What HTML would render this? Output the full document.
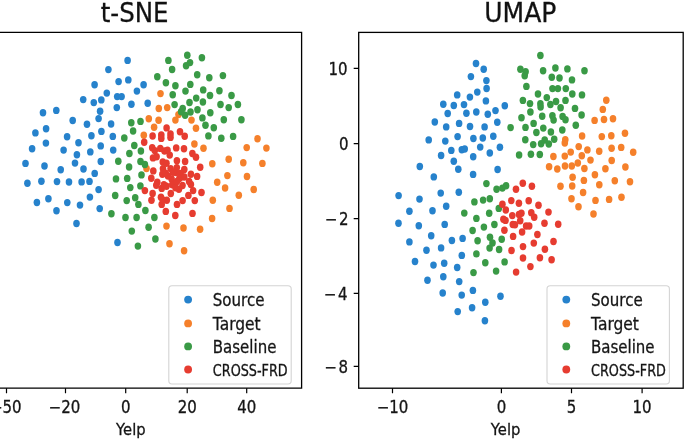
<!DOCTYPE html>
<html><head><meta charset="utf-8"><title>t-SNE / UMAP</title>
<style>
html,body{margin:0;padding:0;background:#fff}
svg{display:block}
text{font-family:"DejaVu Sans","Liberation Sans",sans-serif;fill:#151515;stroke:#151515;stroke-width:0.3px}
.tk{font-size:16.8px}
.lg{font-size:16px}
.ttl{font-size:26.7px;fill:#111}
.xl{font-size:16.6px}
</style></head><body>
<svg width="685" height="439" viewBox="0 0 685 439">
<rect width="685" height="439" fill="#fff"/>

<g>
<g fill="#2682cc">
<ellipse cx="108.4" cy="69.6" rx="3.3" ry="3.7"/>
<ellipse cx="94.6" cy="84.7" rx="3.3" ry="3.7"/>
<ellipse cx="106.8" cy="93.1" rx="3.3" ry="3.7"/>
<ellipse cx="83.2" cy="99.6" rx="3.3" ry="3.7"/>
<ellipse cx="101.3" cy="99.9" rx="3.3" ry="3.7"/>
<ellipse cx="93.8" cy="102.6" rx="3.3" ry="3.7"/>
<ellipse cx="127.6" cy="60.4" rx="3.3" ry="3.7"/>
<ellipse cx="128.3" cy="79.9" rx="3.3" ry="3.7"/>
<ellipse cx="118.6" cy="81.6" rx="3.3" ry="3.7"/>
<ellipse cx="143.6" cy="84.7" rx="3.3" ry="3.7"/>
<ellipse cx="136.9" cy="91.1" rx="3.3" ry="3.7"/>
<ellipse cx="117.2" cy="96.6" rx="3.3" ry="3.7"/>
<ellipse cx="121.6" cy="96.6" rx="3.3" ry="3.7"/>
<ellipse cx="131.4" cy="104.2" rx="3.3" ry="3.7"/>
<ellipse cx="147.7" cy="103.2" rx="3.3" ry="3.7"/>
<ellipse cx="43.0" cy="112.8" rx="3.3" ry="3.7"/>
<ellipse cx="56.3" cy="110.4" rx="3.3" ry="3.7"/>
<ellipse cx="100.1" cy="111.3" rx="3.3" ry="3.7"/>
<ellipse cx="116.8" cy="107.6" rx="3.3" ry="3.7"/>
<ellipse cx="72.7" cy="120.5" rx="3.3" ry="3.7"/>
<ellipse cx="98.6" cy="118.6" rx="3.3" ry="3.7"/>
<ellipse cx="87.0" cy="124.3" rx="3.3" ry="3.7"/>
<ellipse cx="111.1" cy="124.0" rx="3.3" ry="3.7"/>
<ellipse cx="46.1" cy="128.8" rx="3.3" ry="3.7"/>
<ellipse cx="35.4" cy="132.9" rx="3.3" ry="3.7"/>
<ellipse cx="101.4" cy="131.4" rx="3.3" ry="3.7"/>
<ellipse cx="91.4" cy="135.7" rx="3.3" ry="3.7"/>
<ellipse cx="67.1" cy="136.7" rx="3.3" ry="3.7"/>
<ellipse cx="112.8" cy="136.4" rx="3.3" ry="3.7"/>
<ellipse cx="45.9" cy="143.1" rx="3.3" ry="3.7"/>
<ellipse cx="78.5" cy="142.8" rx="3.3" ry="3.7"/>
<ellipse cx="100.7" cy="145.9" rx="3.3" ry="3.7"/>
<ellipse cx="32.1" cy="148.7" rx="3.3" ry="3.7"/>
<ellipse cx="63.6" cy="150.1" rx="3.3" ry="3.7"/>
<ellipse cx="113.2" cy="150.1" rx="3.3" ry="3.7"/>
<ellipse cx="90.3" cy="151.9" rx="3.3" ry="3.7"/>
<ellipse cx="76.9" cy="154.7" rx="3.3" ry="3.7"/>
<ellipse cx="100.8" cy="161.5" rx="3.3" ry="3.7"/>
<ellipse cx="25.5" cy="163.4" rx="3.3" ry="3.7"/>
<ellipse cx="75.0" cy="163.1" rx="3.3" ry="3.7"/>
<ellipse cx="44.5" cy="166.0" rx="3.3" ry="3.7"/>
<ellipse cx="83.5" cy="169.0" rx="3.3" ry="3.7"/>
<ellipse cx="60.7" cy="169.8" rx="3.3" ry="3.7"/>
<ellipse cx="94.7" cy="173.4" rx="3.3" ry="3.7"/>
<ellipse cx="27.4" cy="183.2" rx="3.3" ry="3.7"/>
<ellipse cx="41.4" cy="181.3" rx="3.3" ry="3.7"/>
<ellipse cx="57.0" cy="181.6" rx="3.3" ry="3.7"/>
<ellipse cx="69.0" cy="182.0" rx="3.3" ry="3.7"/>
<ellipse cx="81.6" cy="181.9" rx="3.3" ry="3.7"/>
<ellipse cx="89.5" cy="181.4" rx="3.3" ry="3.7"/>
<ellipse cx="98.6" cy="189.6" rx="3.3" ry="3.7"/>
<ellipse cx="89.9" cy="197.1" rx="3.3" ry="3.7"/>
<ellipse cx="48.4" cy="198.7" rx="3.3" ry="3.7"/>
<ellipse cx="36.9" cy="202.5" rx="3.3" ry="3.7"/>
<ellipse cx="67.3" cy="202.6" rx="3.3" ry="3.7"/>
<ellipse cx="80.0" cy="205.1" rx="3.3" ry="3.7"/>
<ellipse cx="99.7" cy="208.6" rx="3.3" ry="3.7"/>
<ellipse cx="56.5" cy="210.8" rx="3.3" ry="3.7"/>
<ellipse cx="76.5" cy="223.5" rx="3.3" ry="3.7"/>
<ellipse cx="117.5" cy="242.5" rx="3.3" ry="3.7"/>
</g>
<g fill="#f5802b">
<ellipse cx="160.5" cy="93.6" rx="3.3" ry="3.7"/>
<ellipse cx="158.8" cy="108.5" rx="3.3" ry="3.7"/>
<ellipse cx="167.2" cy="107.6" rx="3.3" ry="3.7"/>
<ellipse cx="148.8" cy="118.8" rx="3.3" ry="3.7"/>
<ellipse cx="158.6" cy="120.2" rx="3.3" ry="3.7"/>
<ellipse cx="154.1" cy="127.2" rx="3.3" ry="3.7"/>
<ellipse cx="143.8" cy="135.2" rx="3.3" ry="3.7"/>
<ellipse cx="178.5" cy="114.6" rx="3.3" ry="3.7"/>
<ellipse cx="175.4" cy="120.1" rx="3.3" ry="3.7"/>
<ellipse cx="191.5" cy="120.1" rx="3.3" ry="3.7"/>
<ellipse cx="196.0" cy="128.3" rx="3.3" ry="3.7"/>
<ellipse cx="146.5" cy="168.5" rx="3.3" ry="3.7"/>
<ellipse cx="194.4" cy="144.0" rx="3.3" ry="3.7"/>
<ellipse cx="203.5" cy="148.3" rx="3.3" ry="3.7"/>
<ellipse cx="212.3" cy="163.7" rx="3.3" ry="3.7"/>
<ellipse cx="257.5" cy="138.7" rx="3.3" ry="3.7"/>
<ellipse cx="246.7" cy="147.6" rx="3.3" ry="3.7"/>
<ellipse cx="266.4" cy="148.1" rx="3.3" ry="3.7"/>
<ellipse cx="228.7" cy="159.2" rx="3.3" ry="3.7"/>
<ellipse cx="243.3" cy="162.7" rx="3.3" ry="3.7"/>
<ellipse cx="262.4" cy="163.4" rx="3.3" ry="3.7"/>
<ellipse cx="227.4" cy="175.6" rx="3.3" ry="3.7"/>
<ellipse cx="247.0" cy="176.5" rx="3.3" ry="3.7"/>
<ellipse cx="217.2" cy="182.3" rx="3.3" ry="3.7"/>
<ellipse cx="225.1" cy="188.0" rx="3.3" ry="3.7"/>
<ellipse cx="253.7" cy="189.5" rx="3.3" ry="3.7"/>
<ellipse cx="238.8" cy="195.3" rx="3.3" ry="3.7"/>
<ellipse cx="212.8" cy="200.3" rx="3.3" ry="3.7"/>
<ellipse cx="229.5" cy="208.4" rx="3.3" ry="3.7"/>
<ellipse cx="212.1" cy="218.5" rx="3.3" ry="3.7"/>
<ellipse cx="166.5" cy="226.1" rx="3.3" ry="3.7"/>
<ellipse cx="183.5" cy="228.0" rx="3.3" ry="3.7"/>
<ellipse cx="200.1" cy="229.2" rx="3.3" ry="3.7"/>
<ellipse cx="169.5" cy="243.8" rx="3.3" ry="3.7"/>
<ellipse cx="184.1" cy="250.7" rx="3.3" ry="3.7"/>
</g>
<g fill="#3a9a46">
<ellipse cx="168.4" cy="60.4" rx="3.3" ry="3.7"/>
<ellipse cx="187.3" cy="55.3" rx="3.3" ry="3.7"/>
<ellipse cx="201.9" cy="57.7" rx="3.3" ry="3.7"/>
<ellipse cx="190.0" cy="62.6" rx="3.3" ry="3.7"/>
<ellipse cx="186.1" cy="65.8" rx="3.3" ry="3.7"/>
<ellipse cx="172.1" cy="69.5" rx="3.3" ry="3.7"/>
<ellipse cx="197.2" cy="74.7" rx="3.3" ry="3.7"/>
<ellipse cx="209.3" cy="77.7" rx="3.3" ry="3.7"/>
<ellipse cx="157.3" cy="76.8" rx="3.3" ry="3.7"/>
<ellipse cx="165.9" cy="82.8" rx="3.3" ry="3.7"/>
<ellipse cx="175.4" cy="85.7" rx="3.3" ry="3.7"/>
<ellipse cx="190.3" cy="84.4" rx="3.3" ry="3.7"/>
<ellipse cx="203.2" cy="89.9" rx="3.3" ry="3.7"/>
<ellipse cx="185.5" cy="91.1" rx="3.3" ry="3.7"/>
<ellipse cx="172.7" cy="94.7" rx="3.3" ry="3.7"/>
<ellipse cx="210.0" cy="95.5" rx="3.3" ry="3.7"/>
<ellipse cx="196.2" cy="98.1" rx="3.3" ry="3.7"/>
<ellipse cx="189.5" cy="102.5" rx="3.3" ry="3.7"/>
<ellipse cx="202.9" cy="102.0" rx="3.3" ry="3.7"/>
<ellipse cx="174.6" cy="104.6" rx="3.3" ry="3.7"/>
<ellipse cx="222.9" cy="75.6" rx="3.3" ry="3.7"/>
<ellipse cx="219.4" cy="90.8" rx="3.3" ry="3.7"/>
<ellipse cx="231.5" cy="95.5" rx="3.3" ry="3.7"/>
<ellipse cx="220.5" cy="104.5" rx="3.3" ry="3.7"/>
<ellipse cx="237.9" cy="104.5" rx="3.3" ry="3.7"/>
<ellipse cx="131.3" cy="122.8" rx="3.3" ry="3.7"/>
<ellipse cx="140.5" cy="121.4" rx="3.3" ry="3.7"/>
<ellipse cx="133.1" cy="131.0" rx="3.3" ry="3.7"/>
<ellipse cx="124.3" cy="138.0" rx="3.3" ry="3.7"/>
<ellipse cx="182.7" cy="108.4" rx="3.3" ry="3.7"/>
<ellipse cx="190.5" cy="112.0" rx="3.3" ry="3.7"/>
<ellipse cx="185.1" cy="115.3" rx="3.3" ry="3.7"/>
<ellipse cx="181.1" cy="111.7" rx="3.3" ry="3.7"/>
<ellipse cx="197.5" cy="109.8" rx="3.3" ry="3.7"/>
<ellipse cx="210.3" cy="112.8" rx="3.3" ry="3.7"/>
<ellipse cx="202.4" cy="117.9" rx="3.3" ry="3.7"/>
<ellipse cx="205.5" cy="125.2" rx="3.3" ry="3.7"/>
<ellipse cx="213.8" cy="127.7" rx="3.3" ry="3.7"/>
<ellipse cx="208.4" cy="135.9" rx="3.3" ry="3.7"/>
<ellipse cx="134.3" cy="145.5" rx="3.3" ry="3.7"/>
<ellipse cx="140.9" cy="151.0" rx="3.3" ry="3.7"/>
<ellipse cx="129.4" cy="153.5" rx="3.3" ry="3.7"/>
<ellipse cx="118.3" cy="161.2" rx="3.3" ry="3.7"/>
<ellipse cx="140.5" cy="161.5" rx="3.3" ry="3.7"/>
<ellipse cx="144.9" cy="164.5" rx="3.3" ry="3.7"/>
<ellipse cx="129.1" cy="167.0" rx="3.3" ry="3.7"/>
<ellipse cx="228.7" cy="107.6" rx="3.3" ry="3.7"/>
<ellipse cx="223.8" cy="119.8" rx="3.3" ry="3.7"/>
<ellipse cx="241.4" cy="119.8" rx="3.3" ry="3.7"/>
<ellipse cx="221.3" cy="138.3" rx="3.3" ry="3.7"/>
<ellipse cx="233.1" cy="136.4" rx="3.3" ry="3.7"/>
<ellipse cx="116.0" cy="178.9" rx="3.3" ry="3.7"/>
<ellipse cx="127.2" cy="178.4" rx="3.3" ry="3.7"/>
<ellipse cx="141.5" cy="174.9" rx="3.3" ry="3.7"/>
<ellipse cx="130.3" cy="187.6" rx="3.3" ry="3.7"/>
<ellipse cx="140.4" cy="185.9" rx="3.3" ry="3.7"/>
<ellipse cx="115.2" cy="195.5" rx="3.3" ry="3.7"/>
<ellipse cx="135.2" cy="197.8" rx="3.3" ry="3.7"/>
<ellipse cx="126.7" cy="200.6" rx="3.3" ry="3.7"/>
<ellipse cx="111.4" cy="213.7" rx="3.3" ry="3.7"/>
<ellipse cx="138.4" cy="204.4" rx="3.3" ry="3.7"/>
<ellipse cx="145.4" cy="210.5" rx="3.3" ry="3.7"/>
<ellipse cx="125.5" cy="217.5" rx="3.3" ry="3.7"/>
<ellipse cx="136.6" cy="217.5" rx="3.3" ry="3.7"/>
<ellipse cx="154.4" cy="217.5" rx="3.3" ry="3.7"/>
<ellipse cx="148.6" cy="227.3" rx="3.3" ry="3.7"/>
<ellipse cx="131.8" cy="231.1" rx="3.3" ry="3.7"/>
<ellipse cx="155.4" cy="239.0" rx="3.3" ry="3.7"/>
<ellipse cx="137.9" cy="246.1" rx="3.3" ry="3.7"/>
</g>
<g fill="#e63c30">
<ellipse cx="152.6" cy="136.0" rx="3.3" ry="3.7"/>
<ellipse cx="161.3" cy="135.0" rx="3.3" ry="3.7"/>
<ellipse cx="161.3" cy="138.4" rx="3.3" ry="3.7"/>
<ellipse cx="166.6" cy="127.9" rx="3.3" ry="3.7"/>
<ellipse cx="170.5" cy="134.0" rx="3.3" ry="3.7"/>
<ellipse cx="170.5" cy="137.4" rx="3.3" ry="3.7"/>
<ellipse cx="180.0" cy="131.7" rx="3.3" ry="3.7"/>
<ellipse cx="184.7" cy="136.3" rx="3.3" ry="3.7"/>
<ellipse cx="144.2" cy="142.2" rx="3.3" ry="3.7"/>
<ellipse cx="152.2" cy="147.7" rx="3.3" ry="3.7"/>
<ellipse cx="154.8" cy="150.6" rx="3.3" ry="3.7"/>
<ellipse cx="160.3" cy="148.4" rx="3.3" ry="3.7"/>
<ellipse cx="164.5" cy="151.0" rx="3.3" ry="3.7"/>
<ellipse cx="153.0" cy="157.9" rx="3.3" ry="3.7"/>
<ellipse cx="156.6" cy="156.8" rx="3.3" ry="3.7"/>
<ellipse cx="176.2" cy="147.9" rx="3.3" ry="3.7"/>
<ellipse cx="184.0" cy="148.8" rx="3.3" ry="3.7"/>
<ellipse cx="167.5" cy="150.3" rx="3.3" ry="3.7"/>
<ellipse cx="169.7" cy="155.1" rx="3.3" ry="3.7"/>
<ellipse cx="192.4" cy="153.5" rx="3.3" ry="3.7"/>
<ellipse cx="196.0" cy="157.2" rx="3.3" ry="3.7"/>
<ellipse cx="176.9" cy="160.7" rx="3.3" ry="3.7"/>
<ellipse cx="185.1" cy="161.5" rx="3.3" ry="3.7"/>
<ellipse cx="200.2" cy="167.3" rx="3.3" ry="3.7"/>
<ellipse cx="153.3" cy="170.9" rx="3.3" ry="3.7"/>
<ellipse cx="163.0" cy="168.7" rx="3.3" ry="3.7"/>
<ellipse cx="162.4" cy="174.2" rx="3.3" ry="3.7"/>
<ellipse cx="151.3" cy="178.2" rx="3.3" ry="3.7"/>
<ellipse cx="157.3" cy="182.2" rx="3.3" ry="3.7"/>
<ellipse cx="144.9" cy="190.6" rx="3.3" ry="3.7"/>
<ellipse cx="152.6" cy="193.5" rx="3.3" ry="3.7"/>
<ellipse cx="161.7" cy="188.4" rx="3.3" ry="3.7"/>
<ellipse cx="163.9" cy="184.8" rx="3.3" ry="3.7"/>
<ellipse cx="161.0" cy="197.2" rx="3.3" ry="3.7"/>
<ellipse cx="151.5" cy="200.2" rx="3.3" ry="3.7"/>
<ellipse cx="184.3" cy="169.5" rx="3.3" ry="3.7"/>
<ellipse cx="170.6" cy="168.6" rx="3.3" ry="3.7"/>
<ellipse cx="176.8" cy="167.6" rx="3.3" ry="3.7"/>
<ellipse cx="176.0" cy="172.6" rx="3.3" ry="3.7"/>
<ellipse cx="165.7" cy="173.1" rx="3.3" ry="3.7"/>
<ellipse cx="190.9" cy="174.2" rx="3.3" ry="3.7"/>
<ellipse cx="197.1" cy="176.4" rx="3.3" ry="3.7"/>
<ellipse cx="181.8" cy="176.8" rx="3.3" ry="3.7"/>
<ellipse cx="171.6" cy="179.0" rx="3.3" ry="3.7"/>
<ellipse cx="189.1" cy="181.5" rx="3.3" ry="3.7"/>
<ellipse cx="190.9" cy="184.4" rx="3.3" ry="3.7"/>
<ellipse cx="182.5" cy="185.5" rx="3.3" ry="3.7"/>
<ellipse cx="172.3" cy="184.8" rx="3.3" ry="3.7"/>
<ellipse cx="166.5" cy="186.2" rx="3.3" ry="3.7"/>
<ellipse cx="178.9" cy="189.2" rx="3.3" ry="3.7"/>
<ellipse cx="193.1" cy="190.6" rx="3.3" ry="3.7"/>
<ellipse cx="201.5" cy="192.5" rx="3.3" ry="3.7"/>
<ellipse cx="170.8" cy="193.5" rx="3.3" ry="3.7"/>
<ellipse cx="188.4" cy="195.4" rx="3.3" ry="3.7"/>
<ellipse cx="182.6" cy="200.6" rx="3.3" ry="3.7"/>
<ellipse cx="194.8" cy="200.6" rx="3.3" ry="3.7"/>
<ellipse cx="166.8" cy="200.2" rx="3.3" ry="3.7"/>
<ellipse cx="161.7" cy="204.4" rx="3.3" ry="3.7"/>
<ellipse cx="177.0" cy="204.4" rx="3.3" ry="3.7"/>
<ellipse cx="165.8" cy="211.4" rx="3.3" ry="3.7"/>
<ellipse cx="175.3" cy="215.5" rx="3.3" ry="3.7"/>
<ellipse cx="192.5" cy="213.4" rx="3.3" ry="3.7"/>
<ellipse cx="173.0" cy="172.3" rx="3.3" ry="3.7"/>
<ellipse cx="180.5" cy="173.5" rx="3.3" ry="3.7"/>
<ellipse cx="179.4" cy="178.5" rx="3.3" ry="3.7"/>
<ellipse cx="184.3" cy="177.0" rx="3.3" ry="3.7"/>
<ellipse cx="156.3" cy="185.3" rx="3.3" ry="3.7"/>
<ellipse cx="168.0" cy="176.0" rx="3.3" ry="3.7"/>
<ellipse cx="177.0" cy="181.5" rx="3.3" ry="3.7"/>
<ellipse cx="175.5" cy="187.8" rx="3.3" ry="3.7"/>
<ellipse cx="162.8" cy="161.9" rx="3.3" ry="3.7"/>
<ellipse cx="166.5" cy="163.3" rx="3.3" ry="3.7"/>
<ellipse cx="162.8" cy="200.0" rx="3.3" ry="3.7"/>
</g>
</g>
<g>
<g fill="#2682cc">
<ellipse cx="476.0" cy="63.5" rx="3.3" ry="3.7"/>
<ellipse cx="483.7" cy="69.2" rx="3.3" ry="3.7"/>
<ellipse cx="470.9" cy="76.6" rx="3.3" ry="3.7"/>
<ellipse cx="486.4" cy="80.6" rx="3.3" ry="3.7"/>
<ellipse cx="486.6" cy="88.5" rx="3.3" ry="3.7"/>
<ellipse cx="477.3" cy="92.1" rx="3.3" ry="3.7"/>
<ellipse cx="457.2" cy="94.9" rx="3.3" ry="3.7"/>
<ellipse cx="469.9" cy="97.1" rx="3.3" ry="3.7"/>
<ellipse cx="485.9" cy="100.9" rx="3.3" ry="3.7"/>
<ellipse cx="443.3" cy="104.2" rx="3.3" ry="3.7"/>
<ellipse cx="453.8" cy="105.5" rx="3.3" ry="3.7"/>
<ellipse cx="464.0" cy="104.6" rx="3.3" ry="3.7"/>
<ellipse cx="504.8" cy="105.8" rx="3.3" ry="3.7"/>
<ellipse cx="447.7" cy="113.5" rx="3.3" ry="3.7"/>
<ellipse cx="466.4" cy="113.3" rx="3.3" ry="3.7"/>
<ellipse cx="476.3" cy="112.0" rx="3.3" ry="3.7"/>
<ellipse cx="487.8" cy="114.2" rx="3.3" ry="3.7"/>
<ellipse cx="434.8" cy="122.0" rx="3.3" ry="3.7"/>
<ellipse cx="459.1" cy="123.4" rx="3.3" ry="3.7"/>
<ellipse cx="446.2" cy="126.9" rx="3.3" ry="3.7"/>
<ellipse cx="470.0" cy="126.5" rx="3.3" ry="3.7"/>
<ellipse cx="484.6" cy="126.9" rx="3.3" ry="3.7"/>
<ellipse cx="457.6" cy="136.6" rx="3.3" ry="3.7"/>
<ellipse cx="473.4" cy="138.5" rx="3.3" ry="3.7"/>
<ellipse cx="482.8" cy="138.0" rx="3.3" ry="3.7"/>
<ellipse cx="428.7" cy="139.9" rx="3.3" ry="3.7"/>
<ellipse cx="445.3" cy="141.1" rx="3.3" ry="3.7"/>
<ellipse cx="493.3" cy="136.3" rx="3.3" ry="3.7"/>
<ellipse cx="480.2" cy="147.1" rx="3.3" ry="3.7"/>
<ellipse cx="451.3" cy="150.4" rx="3.3" ry="3.7"/>
<ellipse cx="461.8" cy="149.7" rx="3.3" ry="3.7"/>
<ellipse cx="464.7" cy="149.0" rx="3.3" ry="3.7"/>
<ellipse cx="489.8" cy="153.0" rx="3.3" ry="3.7"/>
<ellipse cx="441.1" cy="155.5" rx="3.3" ry="3.7"/>
<ellipse cx="473.2" cy="156.8" rx="3.3" ry="3.7"/>
<ellipse cx="453.8" cy="161.2" rx="3.3" ry="3.7"/>
<ellipse cx="419.8" cy="166.5" rx="3.3" ry="3.7"/>
<ellipse cx="458.3" cy="169.2" rx="3.3" ry="3.7"/>
<ellipse cx="495.5" cy="110.6" rx="3.3" ry="3.7"/>
<ellipse cx="497.3" cy="122.3" rx="3.3" ry="3.7"/>
<ellipse cx="499.9" cy="147.2" rx="3.3" ry="3.7"/>
<ellipse cx="497.6" cy="169.5" rx="3.3" ry="3.7"/>
<ellipse cx="433.8" cy="176.9" rx="3.3" ry="3.7"/>
<ellipse cx="473.1" cy="174.4" rx="3.3" ry="3.7"/>
<ellipse cx="398.6" cy="195.6" rx="3.3" ry="3.7"/>
<ellipse cx="440.7" cy="193.1" rx="3.3" ry="3.7"/>
<ellipse cx="458.8" cy="192.2" rx="3.3" ry="3.7"/>
<ellipse cx="419.5" cy="199.1" rx="3.3" ry="3.7"/>
<ellipse cx="446.2" cy="206.2" rx="3.3" ry="3.7"/>
<ellipse cx="409.4" cy="211.2" rx="3.3" ry="3.7"/>
<ellipse cx="432.5" cy="210.8" rx="3.3" ry="3.7"/>
<ellipse cx="398.5" cy="223.3" rx="3.3" ry="3.7"/>
<ellipse cx="418.8" cy="225.8" rx="3.3" ry="3.7"/>
<ellipse cx="444.7" cy="224.4" rx="3.3" ry="3.7"/>
<ellipse cx="431.2" cy="235.8" rx="3.3" ry="3.7"/>
<ellipse cx="409.4" cy="241.9" rx="3.3" ry="3.7"/>
<ellipse cx="451.9" cy="240.5" rx="3.3" ry="3.7"/>
<ellipse cx="462.6" cy="238.4" rx="3.3" ry="3.7"/>
<ellipse cx="426.5" cy="250.2" rx="3.3" ry="3.7"/>
<ellipse cx="441.1" cy="247.9" rx="3.3" ry="3.7"/>
<ellipse cx="461.8" cy="255.4" rx="3.3" ry="3.7"/>
<ellipse cx="415.0" cy="261.5" rx="3.3" ry="3.7"/>
<ellipse cx="433.5" cy="265.1" rx="3.3" ry="3.7"/>
<ellipse cx="444.2" cy="263.2" rx="3.3" ry="3.7"/>
<ellipse cx="457.2" cy="267.5" rx="3.3" ry="3.7"/>
<ellipse cx="427.5" cy="280.3" rx="3.3" ry="3.7"/>
<ellipse cx="443.3" cy="276.7" rx="3.3" ry="3.7"/>
<ellipse cx="459.2" cy="281.6" rx="3.3" ry="3.7"/>
<ellipse cx="472.9" cy="290.4" rx="3.3" ry="3.7"/>
<ellipse cx="442.7" cy="293.0" rx="3.3" ry="3.7"/>
<ellipse cx="461.7" cy="295.1" rx="3.3" ry="3.7"/>
<ellipse cx="500.5" cy="296.2" rx="3.3" ry="3.7"/>
<ellipse cx="485.3" cy="302.3" rx="3.3" ry="3.7"/>
<ellipse cx="472.1" cy="307.7" rx="3.3" ry="3.7"/>
<ellipse cx="457.7" cy="311.6" rx="3.3" ry="3.7"/>
<ellipse cx="484.9" cy="320.7" rx="3.3" ry="3.7"/>
</g>
<g fill="#f5802b">
<ellipse cx="606.3" cy="100.3" rx="3.3" ry="3.7"/>
<ellipse cx="582.1" cy="136.0" rx="3.3" ry="3.7"/>
<ellipse cx="565.3" cy="139.7" rx="3.3" ry="3.7"/>
<ellipse cx="564.8" cy="143.0" rx="3.3" ry="3.7"/>
<ellipse cx="578.7" cy="146.6" rx="3.3" ry="3.7"/>
<ellipse cx="587.4" cy="149.9" rx="3.3" ry="3.7"/>
<ellipse cx="570.7" cy="152.1" rx="3.3" ry="3.7"/>
<ellipse cx="564.8" cy="156.1" rx="3.3" ry="3.7"/>
<ellipse cx="553.4" cy="156.5" rx="3.3" ry="3.7"/>
<ellipse cx="581.8" cy="155.7" rx="3.3" ry="3.7"/>
<ellipse cx="549.1" cy="166.8" rx="3.3" ry="3.7"/>
<ellipse cx="557.3" cy="169.0" rx="3.3" ry="3.7"/>
<ellipse cx="565.0" cy="166.0" rx="3.3" ry="3.7"/>
<ellipse cx="571.8" cy="166.0" rx="3.3" ry="3.7"/>
<ellipse cx="577.8" cy="163.0" rx="3.3" ry="3.7"/>
<ellipse cx="584.4" cy="168.5" rx="3.3" ry="3.7"/>
<ellipse cx="590.5" cy="160.1" rx="3.3" ry="3.7"/>
<ellipse cx="602.8" cy="109.4" rx="3.3" ry="3.7"/>
<ellipse cx="594.6" cy="120.4" rx="3.3" ry="3.7"/>
<ellipse cx="604.0" cy="119.5" rx="3.3" ry="3.7"/>
<ellipse cx="613.0" cy="118.7" rx="3.3" ry="3.7"/>
<ellipse cx="625.0" cy="133.3" rx="3.3" ry="3.7"/>
<ellipse cx="601.8" cy="136.6" rx="3.3" ry="3.7"/>
<ellipse cx="611.3" cy="135.8" rx="3.3" ry="3.7"/>
<ellipse cx="599.2" cy="151.2" rx="3.3" ry="3.7"/>
<ellipse cx="611.6" cy="148.2" rx="3.3" ry="3.7"/>
<ellipse cx="621.2" cy="147.4" rx="3.3" ry="3.7"/>
<ellipse cx="633.2" cy="152.2" rx="3.3" ry="3.7"/>
<ellipse cx="611.7" cy="160.5" rx="3.3" ry="3.7"/>
<ellipse cx="605.4" cy="168.8" rx="3.3" ry="3.7"/>
<ellipse cx="625.4" cy="167.0" rx="3.3" ry="3.7"/>
<ellipse cx="572.6" cy="177.2" rx="3.3" ry="3.7"/>
<ellipse cx="583.9" cy="180.4" rx="3.3" ry="3.7"/>
<ellipse cx="560.5" cy="186.2" rx="3.3" ry="3.7"/>
<ellipse cx="572.2" cy="186.0" rx="3.3" ry="3.7"/>
<ellipse cx="583.1" cy="192.5" rx="3.3" ry="3.7"/>
<ellipse cx="571.5" cy="198.7" rx="3.3" ry="3.7"/>
<ellipse cx="578.5" cy="206.7" rx="3.3" ry="3.7"/>
<ellipse cx="594.9" cy="174.7" rx="3.3" ry="3.7"/>
<ellipse cx="614.8" cy="180.7" rx="3.3" ry="3.7"/>
<ellipse cx="630.0" cy="181.7" rx="3.3" ry="3.7"/>
<ellipse cx="599.3" cy="184.8" rx="3.3" ry="3.7"/>
<ellipse cx="595.5" cy="200.4" rx="3.3" ry="3.7"/>
<ellipse cx="609.1" cy="199.4" rx="3.3" ry="3.7"/>
<ellipse cx="621.5" cy="197.2" rx="3.3" ry="3.7"/>
<ellipse cx="593.5" cy="214.0" rx="3.3" ry="3.7"/>
</g>
<g fill="#3a9a46">
<ellipse cx="540.4" cy="55.5" rx="3.3" ry="3.7"/>
<ellipse cx="520.4" cy="69.2" rx="3.3" ry="3.7"/>
<ellipse cx="525.6" cy="71.8" rx="3.3" ry="3.7"/>
<ellipse cx="524.7" cy="75.8" rx="3.3" ry="3.7"/>
<ellipse cx="543.1" cy="70.7" rx="3.3" ry="3.7"/>
<ellipse cx="555.4" cy="68.0" rx="3.3" ry="3.7"/>
<ellipse cx="567.4" cy="68.9" rx="3.3" ry="3.7"/>
<ellipse cx="584.5" cy="70.7" rx="3.3" ry="3.7"/>
<ellipse cx="551.8" cy="77.2" rx="3.3" ry="3.7"/>
<ellipse cx="559.5" cy="78.0" rx="3.3" ry="3.7"/>
<ellipse cx="572.0" cy="79.9" rx="3.3" ry="3.7"/>
<ellipse cx="526.4" cy="86.4" rx="3.3" ry="3.7"/>
<ellipse cx="552.5" cy="88.6" rx="3.3" ry="3.7"/>
<ellipse cx="557.9" cy="88.6" rx="3.3" ry="3.7"/>
<ellipse cx="565.8" cy="88.6" rx="3.3" ry="3.7"/>
<ellipse cx="538.0" cy="94.0" rx="3.3" ry="3.7"/>
<ellipse cx="572.3" cy="94.0" rx="3.3" ry="3.7"/>
<ellipse cx="582.0" cy="94.9" rx="3.3" ry="3.7"/>
<ellipse cx="546.8" cy="97.6" rx="3.3" ry="3.7"/>
<ellipse cx="522.9" cy="100.4" rx="3.3" ry="3.7"/>
<ellipse cx="556.0" cy="101.5" rx="3.3" ry="3.7"/>
<ellipse cx="565.5" cy="100.4" rx="3.3" ry="3.7"/>
<ellipse cx="530.0" cy="103.6" rx="3.3" ry="3.7"/>
<ellipse cx="540.4" cy="103.8" rx="3.3" ry="3.7"/>
<ellipse cx="540.6" cy="107.0" rx="3.3" ry="3.7"/>
<ellipse cx="550.4" cy="104.5" rx="3.3" ry="3.7"/>
<ellipse cx="530.4" cy="112.0" rx="3.3" ry="3.7"/>
<ellipse cx="521.5" cy="117.7" rx="3.3" ry="3.7"/>
<ellipse cx="533.6" cy="123.4" rx="3.3" ry="3.7"/>
<ellipse cx="510.6" cy="127.6" rx="3.3" ry="3.7"/>
<ellipse cx="525.5" cy="127.4" rx="3.3" ry="3.7"/>
<ellipse cx="536.4" cy="132.5" rx="3.3" ry="3.7"/>
<ellipse cx="560.6" cy="107.7" rx="3.3" ry="3.7"/>
<ellipse cx="575.0" cy="108.4" rx="3.3" ry="3.7"/>
<ellipse cx="542.2" cy="116.2" rx="3.3" ry="3.7"/>
<ellipse cx="552.4" cy="115.7" rx="3.3" ry="3.7"/>
<ellipse cx="553.6" cy="120.1" rx="3.3" ry="3.7"/>
<ellipse cx="562.6" cy="116.4" rx="3.3" ry="3.7"/>
<ellipse cx="565.5" cy="119.7" rx="3.3" ry="3.7"/>
<ellipse cx="581.6" cy="115.0" rx="3.3" ry="3.7"/>
<ellipse cx="575.8" cy="125.2" rx="3.3" ry="3.7"/>
<ellipse cx="543.3" cy="128.1" rx="3.3" ry="3.7"/>
<ellipse cx="550.9" cy="132.0" rx="3.3" ry="3.7"/>
<ellipse cx="562.3" cy="130.0" rx="3.3" ry="3.7"/>
<ellipse cx="525.3" cy="139.7" rx="3.3" ry="3.7"/>
<ellipse cx="533.2" cy="144.6" rx="3.3" ry="3.7"/>
<ellipse cx="519.1" cy="155.0" rx="3.3" ry="3.7"/>
<ellipse cx="530.9" cy="154.3" rx="3.3" ry="3.7"/>
<ellipse cx="539.8" cy="154.5" rx="3.3" ry="3.7"/>
<ellipse cx="554.2" cy="139.3" rx="3.3" ry="3.7"/>
<ellipse cx="544.7" cy="140.0" rx="3.3" ry="3.7"/>
<ellipse cx="541.1" cy="143.7" rx="3.3" ry="3.7"/>
<ellipse cx="548.8" cy="144.0" rx="3.3" ry="3.7"/>
<ellipse cx="486.4" cy="183.6" rx="3.3" ry="3.7"/>
<ellipse cx="474.4" cy="201.9" rx="3.3" ry="3.7"/>
<ellipse cx="483.1" cy="200.1" rx="3.3" ry="3.7"/>
<ellipse cx="489.8" cy="198.7" rx="3.3" ry="3.7"/>
<ellipse cx="464.3" cy="213.1" rx="3.3" ry="3.7"/>
<ellipse cx="476.4" cy="218.4" rx="3.3" ry="3.7"/>
<ellipse cx="489.2" cy="213.3" rx="3.3" ry="3.7"/>
<ellipse cx="483.9" cy="227.1" rx="3.3" ry="3.7"/>
<ellipse cx="472.6" cy="230.5" rx="3.3" ry="3.7"/>
<ellipse cx="496.6" cy="189.2" rx="3.3" ry="3.7"/>
<ellipse cx="502.4" cy="188.1" rx="3.3" ry="3.7"/>
<ellipse cx="506.1" cy="185.8" rx="3.3" ry="3.7"/>
<ellipse cx="498.8" cy="208.4" rx="3.3" ry="3.7"/>
<ellipse cx="494.4" cy="224.5" rx="3.3" ry="3.7"/>
<ellipse cx="477.6" cy="240.8" rx="3.3" ry="3.7"/>
<ellipse cx="490.0" cy="237.3" rx="3.3" ry="3.7"/>
<ellipse cx="489.6" cy="248.1" rx="3.3" ry="3.7"/>
<ellipse cx="492.5" cy="243.0" rx="3.3" ry="3.7"/>
<ellipse cx="476.4" cy="253.9" rx="3.3" ry="3.7"/>
<ellipse cx="485.3" cy="262.7" rx="3.3" ry="3.7"/>
<ellipse cx="473.5" cy="272.6" rx="3.3" ry="3.7"/>
<ellipse cx="501.7" cy="239.3" rx="3.3" ry="3.7"/>
<ellipse cx="499.1" cy="249.5" rx="3.3" ry="3.7"/>
<ellipse cx="504.6" cy="261.9" rx="3.3" ry="3.7"/>
<ellipse cx="496.1" cy="271.1" rx="3.3" ry="3.7"/>
</g>
<g fill="#e63c30">
<ellipse cx="522.8" cy="183.3" rx="3.3" ry="3.7"/>
<ellipse cx="516.0" cy="189.2" rx="3.3" ry="3.7"/>
<ellipse cx="531.9" cy="186.2" rx="3.3" ry="3.7"/>
<ellipse cx="511.3" cy="200.6" rx="3.3" ry="3.7"/>
<ellipse cx="528.7" cy="200.7" rx="3.3" ry="3.7"/>
<ellipse cx="518.9" cy="203.3" rx="3.3" ry="3.7"/>
<ellipse cx="502.4" cy="204.2" rx="3.3" ry="3.7"/>
<ellipse cx="538.5" cy="205.2" rx="3.3" ry="3.7"/>
<ellipse cx="505.8" cy="210.0" rx="3.3" ry="3.7"/>
<ellipse cx="548.5" cy="212.1" rx="3.3" ry="3.7"/>
<ellipse cx="531.3" cy="212.8" rx="3.3" ry="3.7"/>
<ellipse cx="534.2" cy="217.2" rx="3.3" ry="3.7"/>
<ellipse cx="519.0" cy="214.4" rx="3.3" ry="3.7"/>
<ellipse cx="521.4" cy="213.3" rx="3.3" ry="3.7"/>
<ellipse cx="512.3" cy="215.6" rx="3.3" ry="3.7"/>
<ellipse cx="503.4" cy="219.2" rx="3.3" ry="3.7"/>
<ellipse cx="505.5" cy="220.4" rx="3.3" ry="3.7"/>
<ellipse cx="520.2" cy="220.8" rx="3.3" ry="3.7"/>
<ellipse cx="512.8" cy="224.5" rx="3.3" ry="3.7"/>
<ellipse cx="515.0" cy="224.8" rx="3.3" ry="3.7"/>
<ellipse cx="544.5" cy="223.2" rx="3.3" ry="3.7"/>
<ellipse cx="558.2" cy="224.2" rx="3.3" ry="3.7"/>
<ellipse cx="526.1" cy="226.0" rx="3.3" ry="3.7"/>
<ellipse cx="529.2" cy="226.0" rx="3.3" ry="3.7"/>
<ellipse cx="504.4" cy="230.2" rx="3.3" ry="3.7"/>
<ellipse cx="522.1" cy="232.0" rx="3.3" ry="3.7"/>
<ellipse cx="537.4" cy="234.5" rx="3.3" ry="3.7"/>
<ellipse cx="513.1" cy="236.4" rx="3.3" ry="3.7"/>
<ellipse cx="553.5" cy="241.5" rx="3.3" ry="3.7"/>
<ellipse cx="533.8" cy="243.1" rx="3.3" ry="3.7"/>
<ellipse cx="523.0" cy="246.6" rx="3.3" ry="3.7"/>
<ellipse cx="511.5" cy="250.5" rx="3.3" ry="3.7"/>
<ellipse cx="544.9" cy="249.2" rx="3.3" ry="3.7"/>
<ellipse cx="523.0" cy="258.0" rx="3.3" ry="3.7"/>
<ellipse cx="539.9" cy="257.8" rx="3.3" ry="3.7"/>
<ellipse cx="551.6" cy="259.7" rx="3.3" ry="3.7"/>
<ellipse cx="530.4" cy="266.6" rx="3.3" ry="3.7"/>
<ellipse cx="516.1" cy="272.1" rx="3.3" ry="3.7"/>
</g>
</g>
<g stroke="#000" stroke-width="1.3" fill="none">
<path d="M-5 32.4H301.6V388.2H-5"/>
<rect x="358.7" y="32.4" width="324.5" height="355.8"/>
</g>
<g stroke="#000" stroke-width="1.2">
<path d="M6.5 388.3v5M65.5 388.3v5M125.7 388.3v5M187.2 388.3v5M246.7 388.3v5"/>
<path d="M392.5 388.3v5M501.4 388.3v5M571.5 388.3v5M642.1 388.3v5"/>
<path d="M358.7 68.4h-5M358.7 143.7h-5M358.7 218.7h-5M358.7 293.3h-5M358.7 366.4h-5"/>
</g>

<text class="tk" transform="translate(5.7 413.3) scale(0.893 1)" text-anchor="middle">−50</text>
<text class="tk" transform="translate(64.4 413.3) scale(0.893 1)" text-anchor="middle">−20</text>
<text class="tk" transform="translate(125.7 413.3) scale(0.893 1)" text-anchor="middle">0</text>
<text class="tk" transform="translate(187.2 413.3) scale(0.893 1)" text-anchor="middle">20</text>
<text class="tk" transform="translate(246.7 413.3) scale(0.893 1)" text-anchor="middle">40</text>
<text class="tk" transform="translate(392.5 413.3) scale(0.893 1)" text-anchor="middle">−10</text>
<text class="tk" transform="translate(501.4 413.3) scale(0.893 1)" text-anchor="middle">0</text>
<text class="tk" transform="translate(571.5 413.3) scale(0.893 1)" text-anchor="middle">5</text>
<text class="tk" transform="translate(642.1 413.3) scale(0.893 1)" text-anchor="middle">10</text>
<text class="tk" transform="translate(347.6 75.1) scale(0.893 1)" text-anchor="end">10</text>
<text class="tk" transform="translate(348.6 150.20000000000002) scale(0.893 1)" text-anchor="end">0</text>
<text class="tk" transform="translate(348.6 225.10000000000002) scale(0.893 1)" text-anchor="end">−<tspan dx="1.9">2</tspan></text>
<text class="tk" transform="translate(347.6 299.6) scale(0.893 1)" text-anchor="end">−<tspan dx="1.9">4</tspan></text>
<text class="tk" transform="translate(348.1 372.7) scale(0.893 1)" text-anchor="end">−<tspan dx="1.9">8</tspan></text>
<text class="ttl" x="100.7" y="21.9" textLength="67.9" lengthAdjust="spacingAndGlyphs">t-SNE</text>
<text class="ttl" x="484.2" y="21.9" textLength="72.2" lengthAdjust="spacingAndGlyphs">UMAP</text>
<text class="xl" transform="translate(130.8 434.6) scale(0.89 1)" text-anchor="middle">Yelp</text>
<text class="xl" transform="translate(505.6 434.6) scale(0.89 1)" text-anchor="middle">Yelp</text>
<rect x="168.8" y="285.7" width="122.4" height="98.3" rx="3.2" ry="3.2" fill="#fff" fill-opacity="0.85" stroke="#d4d4d4" stroke-width="1.1"/>
<circle cx="188.10000000000002" cy="299.6" r="3.9" fill="#2682cc"/>
<text x="212.8" y="305.6" font-size="16.8" textLength="51.7" lengthAdjust="spacingAndGlyphs">Source</text>
<circle cx="188.10000000000002" cy="323.4" r="3.9" fill="#f5802b"/>
<text x="212.8" y="329.79999999999995" font-size="16.8" textLength="47.9" lengthAdjust="spacingAndGlyphs">Target</text>
<circle cx="188.10000000000002" cy="346.4" r="3.9" fill="#3a9a46"/>
<text x="212.8" y="352.79999999999995" font-size="16.8" textLength="63.6" lengthAdjust="spacingAndGlyphs">Baseline</text>
<circle cx="188.10000000000002" cy="369.5" r="3.9" fill="#e63c30"/>
<text x="212.8" y="375.9" font-size="15" textLength="74.9" lengthAdjust="spacingAndGlyphs">CROSS-FRD</text>
<rect x="547.0" y="285.7" width="122.4" height="98.3" rx="3.2" ry="3.2" fill="#fff" fill-opacity="0.85" stroke="#d4d4d4" stroke-width="1.1"/>
<circle cx="566.3" cy="299.6" r="3.9" fill="#2682cc"/>
<text x="591.0" y="305.6" font-size="16.8" textLength="51.7" lengthAdjust="spacingAndGlyphs">Source</text>
<circle cx="566.3" cy="323.4" r="3.9" fill="#f5802b"/>
<text x="591.0" y="329.79999999999995" font-size="16.8" textLength="47.9" lengthAdjust="spacingAndGlyphs">Target</text>
<circle cx="566.3" cy="346.4" r="3.9" fill="#3a9a46"/>
<text x="591.0" y="352.79999999999995" font-size="16.8" textLength="63.6" lengthAdjust="spacingAndGlyphs">Baseline</text>
<circle cx="566.3" cy="369.5" r="3.9" fill="#e63c30"/>
<text x="591.0" y="375.9" font-size="15" textLength="74.9" lengthAdjust="spacingAndGlyphs">CROSS-FRD</text>
</svg></body></html>
